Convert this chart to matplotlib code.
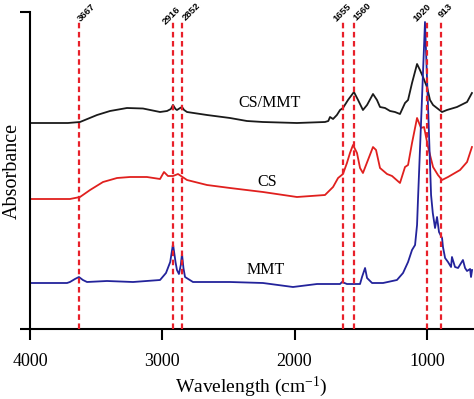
import matplotlib
matplotlib.use("Agg")
import matplotlib.pyplot as plt

plt.rcParams['font.family'] = 'Liberation Serif'
plt.rcParams['mathtext.fontset'] = 'custom'
plt.rcParams['mathtext.rm'] = 'Liberation Serif'
plt.rcParams['mathtext.it'] = 'Liberation Serif:italic'

# spectra (wavenumber, absorbance in arbitrary units)
wn_csmmt = [4000, 3713, 3622, 3493, 3395, 3267, 3146, 3017, 2964, 2935, 2919, 2900, 2889, 2865,
            2851, 2835, 2813, 2662, 2488, 2360, 2239, 1982, 1770, 1745, 1732, 1709, 1680, 1656,
            1634, 1596, 1551, 1520, 1483, 1452, 1407, 1377, 1354, 1316, 1278, 1241, 1203, 1165,
            1142, 1112, 1074, 1052, 1029, 999, 976, 953, 885, 848, 772, 696, 659]
abs_csmmt = [206, 206, 207, 214, 218, 221, 220.5, 217, 218, 220, 224, 220, 219, 221,
             222, 219, 217, 214, 211, 208, 207, 206, 207, 208, 212, 210, 214, 219,
             221, 229, 237, 229, 219, 224, 235, 229, 222, 221, 218, 217, 215, 226,
             229, 246, 265, 259, 252, 242, 229, 224, 217, 219, 222, 227, 236]

wn_cs = [4000, 3698, 3622, 3546, 3448, 3342, 3244, 3116, 3017, 2987, 2957, 2919, 2881, 2813,
         2662, 2488, 2239, 1982, 1770, 1709, 1671, 1634, 1604, 1581, 1558, 1528, 1505, 1483,
         1445, 1407, 1384, 1354, 1301, 1263, 1203, 1165, 1142, 1112, 1074, 1044, 1021, 991,
         953, 916, 885, 840, 749, 696, 659]
abs_cs = [130, 130, 132, 139, 147, 151, 152, 152, 150, 157, 153, 153, 155, 149,
          144, 141, 137, 132, 134, 142, 151, 155, 166, 176, 184, 176, 161, 156,
          169, 182, 179, 161, 155, 153, 146, 162, 164, 186, 211, 201, 202, 182,
          162, 154, 149, 152, 159, 167, 182]

wn_mmt = [4000, 3720, 3698, 3660, 3630, 3600, 3569, 3418, 3221, 3017, 2972, 2940, 2919, 2900,
          2889, 2874, 2860, 2851, 2840, 2828, 2768, 2488, 2239, 2012, 1830, 1656, 1641, 1604,
          1505, 1490, 1467, 1452, 1414, 1331, 1226, 1180, 1142, 1112, 1089, 1074, 1067, 1040,
          1014, 990, 968, 955, 938, 923, 908, 885, 878, 862, 840, 817, 810, 787, 764, 727,
          711, 696, 673, 666, 658]
abs_mmt = [46, 46, 47, 50, 52, 49, 47, 48, 47, 49, 56, 67, 85, 67,
           59, 55, 64, 75, 61, 52, 47, 47, 46, 42, 45, 45, 47, 45,
           45, 52, 61, 51, 46, 46, 49, 56, 67, 79, 84, 104, 129, 219,
           307, 219, 134, 116, 101, 112, 97, 91, 82, 71, 67, 62, 72, 62, 61, 69,
           61, 58, 60, 52, 59]

# marked bands (drawn position) and their labels
band_pos = [3630, 2919, 2851, 1634, 1551, 999, 893]
band_text = ['3667', '2916', '2852', '1655', '1560', '1020', '913']
band_text_x = [3569, 2927, 2776, 1641, 1490, 1036, 855]
band_text_y = [316, 313, 317, 316, 317, 316, 318]

fig = plt.figure(figsize=(4.74, 3.99), dpi=100)
ax = fig.add_axes([30/474, 70/399, 443/474, 317/399])

ax.plot(wn_csmmt, abs_csmmt, color='#1a1a1a', lw=1.3, zorder=2)
ax.plot(wn_cs, abs_cs, color='#e0201e', lw=1.3, zorder=2)
ax.plot(wn_mmt, abs_mmt, color='#23239b', lw=1.3, zorder=2.5)

ax.vlines(band_pos, 0, 307, colors='#e8202a', linestyles=(0, (2.5, 1.6)), lw=1.6, zorder=3)
for x, y, t in zip(band_text_x, band_text_y, band_text):
    ax.text(x, y, t, rotation=45, ha='center', va='center', fontsize=6.8,
            fontweight='bold', family='Liberation Sans', clip_on=False)

ax.text(2186, 226, 'CS/MMT', ha='center', va='center', fontsize=11.5)
ax.text(2208, 147, 'CS', ha='center', va='center', fontsize=11.5)
ax.text(2216, 59, 'MMT', ha='center', va='center', fontsize=11.5)

ax.set_xlim(4000, 651)
ax.set_ylim(0, 317)
ax.set_xticks([4000, 3000, 2000, 1000])
ax.set_yticks([0, 317])
ax.set_yticklabels([])
ax.tick_params(axis='x', length=8, width=1.5, pad=9, labelsize=13)
ax.tick_params(axis='y', length=7, width=1.5)
for s in ['top', 'right']:
    ax.spines[s].set_visible(False)
for s in ['left', 'bottom']:
    ax.spines[s].set_linewidth(1.5)

ax.set_xlabel('Wavelength (cm$^{-1}$)', fontsize=14, labelpad=4)
ax.set_ylabel('Absorbance', fontsize=14.5)
ax.yaxis.set_label_coords(-0.018, 0.5)

fig.savefig('out.png', dpi=100)
